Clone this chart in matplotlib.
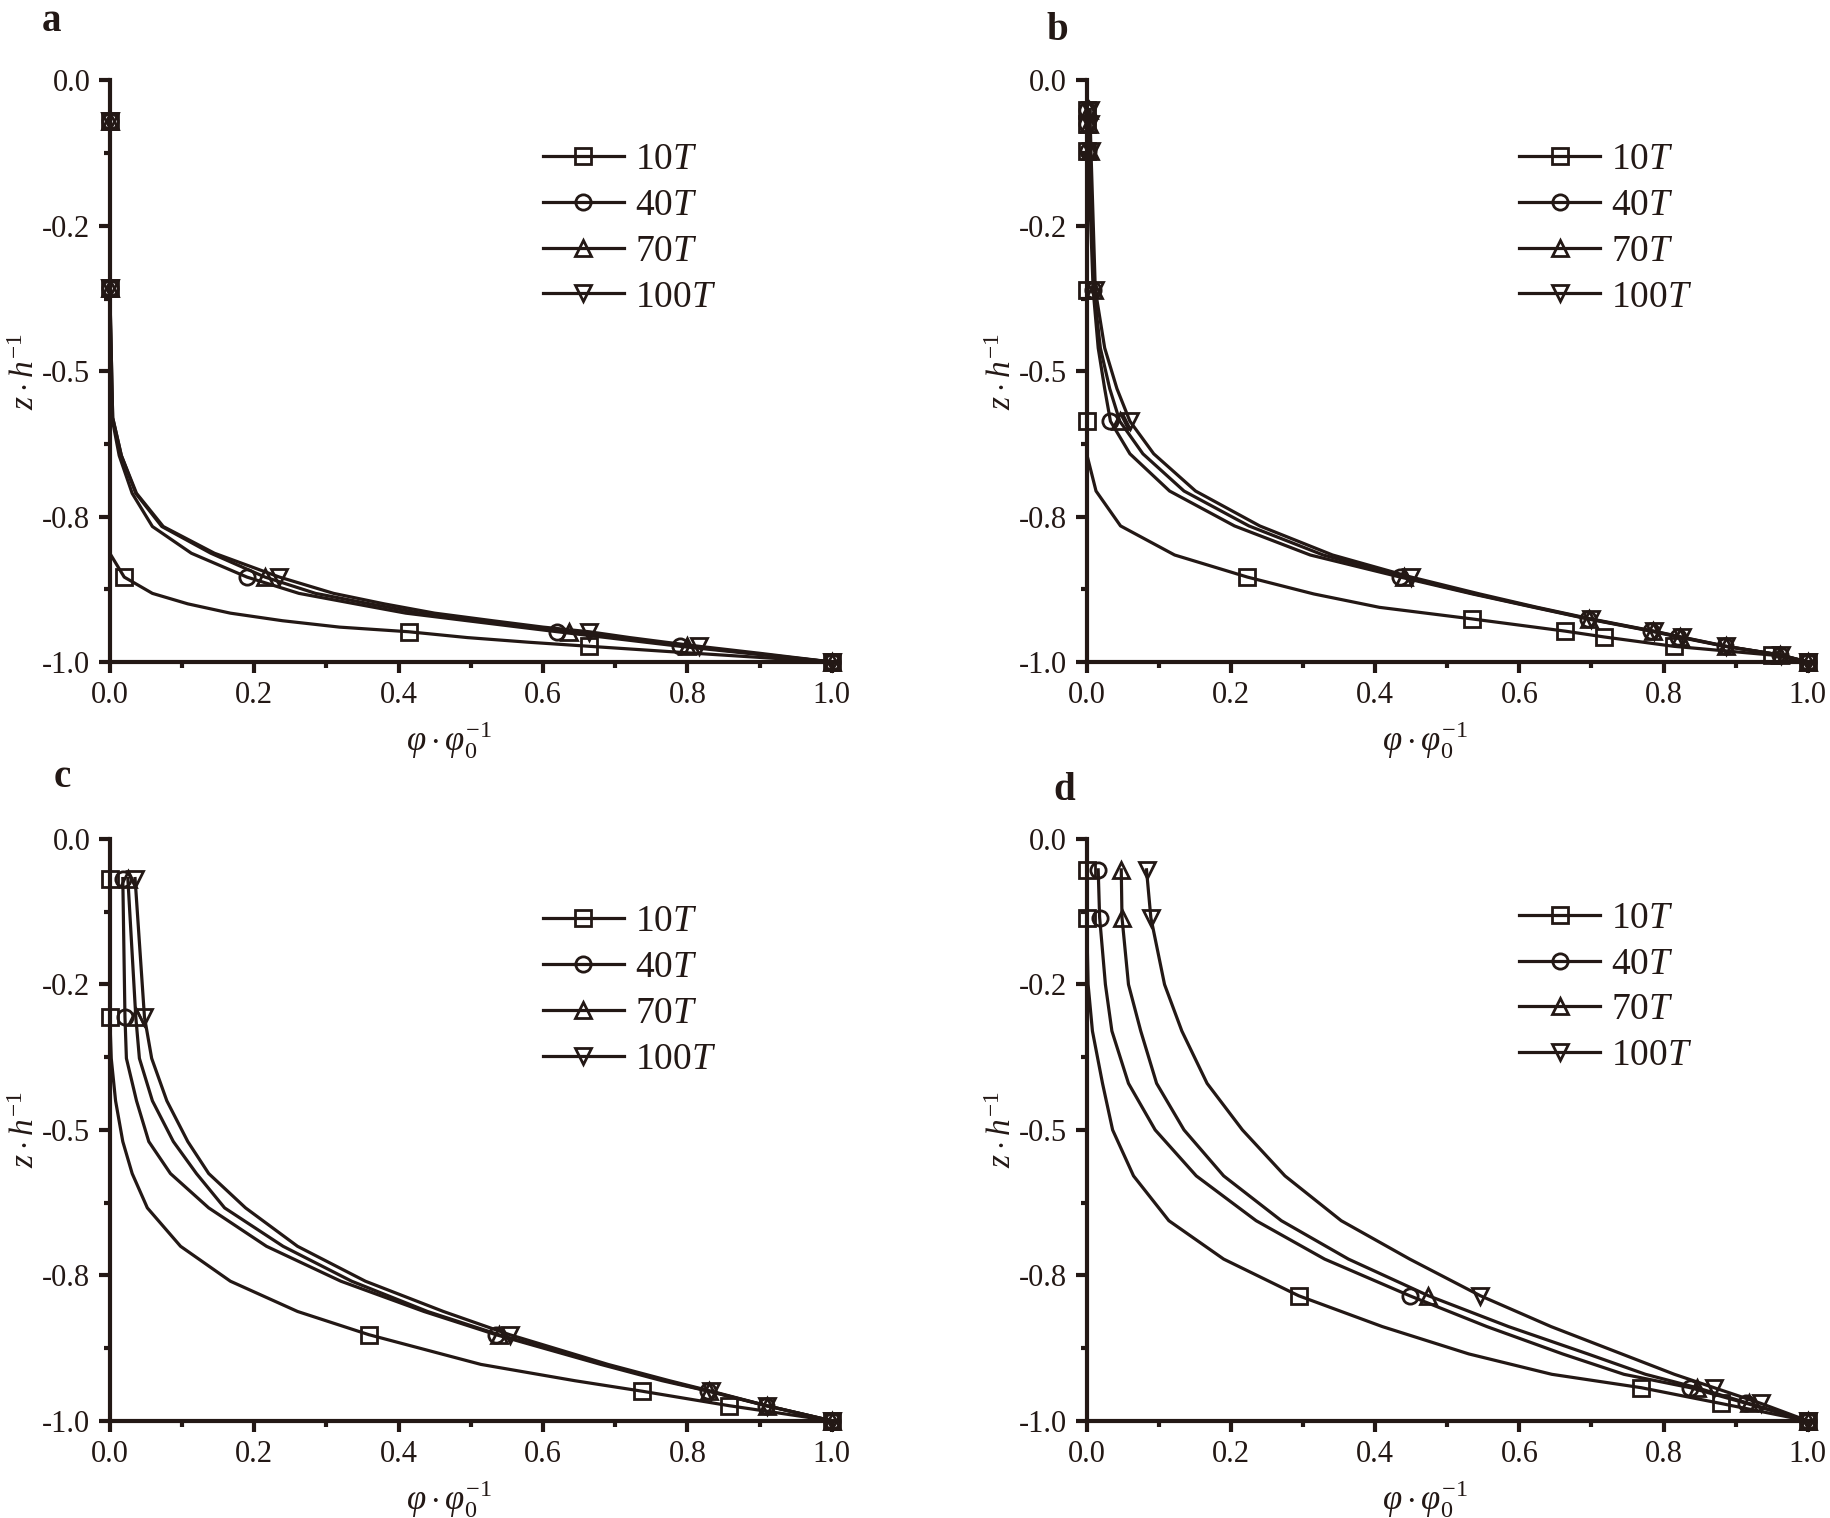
import numpy as np
import matplotlib
matplotlib.use("Agg")
import matplotlib.pyplot as plt

plt.rcParams['font.family'] = ['Liberation Serif', 'DejaVu Serif']
plt.rcParams['mathtext.fontset'] = 'custom'
plt.rcParams['mathtext.rm'] = 'Liberation Serif'
plt.rcParams['mathtext.it'] = 'Liberation Serif:italic'
plt.rcParams['mathtext.bf'] = 'Liberation Serif:bold'

# ---------------- data ----------------
series_labels = ['10$T$', '40$T$', '70$T$', '100$T$']
series_markers = ['s', 'o', '^', 'v']

# panel a
za = [-0.07, -0.357, -0.58, -0.645, -0.71, -0.767, -0.813, -0.854, -0.882, -0.90,
      -0.916, -0.929, -0.94, -0.948, -0.958, -0.966, -0.973, -0.985, -1.0]
a_10T = [0, 0, 0, 0, 0, 0, 0, 0.020, 0.059, 0.108, 0.167, 0.239, 0.318, 0.414,
         0.495, 0.58, 0.664, 0.81, 1.0]
a_40T = [0, 0, 0.003, 0.013, 0.031, 0.059, 0.113, 0.19, 0.262, 0.34, 0.41, 0.495,
         0.567, 0.62, 0.688, 0.742, 0.79, 0.883, 1.0]
a_70T = [0, 0, 0.004, 0.016, 0.036, 0.072, 0.14, 0.215, 0.285, 0.36, 0.43, 0.51,
         0.58, 0.636, 0.70, 0.755, 0.80, 0.89, 1.0]
a_100T = [0, 0, 0.004, 0.016, 0.037, 0.074, 0.145, 0.235, 0.31, 0.38, 0.45, 0.53,
          0.60, 0.664, 0.72, 0.77, 0.816, 0.90, 1.0]
a_marks = [0, 1, 7, 13, 16, 18]

# panel b
zb = [-0.05, -0.075, -0.122, -0.36, -0.46, -0.53, -0.586, -0.642, -0.706, -0.766,
      -0.816, -0.854, -0.883, -0.906, -0.926, -0.947, -0.957, -0.973, -0.988, -1.0]
b_10T = [0, 0, 0, 0, 0, 0, 0, 0, 0.013, 0.047, 0.122, 0.223, 0.315, 0.406, 0.535,
         0.664, 0.718, 0.814, 0.95, 1.0]
b_40T = [0.001, 0.001, 0.002, 0.009, 0.016, 0.025, 0.033, 0.06, 0.115, 0.205, 0.31,
         0.435, 0.535, 0.62, 0.695, 0.783, 0.82, 0.885, 0.962, 1.0]
b_70T = [0.003, 0.003, 0.004, 0.010, 0.019, 0.032, 0.046, 0.078, 0.135, 0.225, 0.328,
         0.44, 0.538, 0.622, 0.697, 0.785, 0.823, 0.886, 0.962, 1.0]
b_100T = [0.005, 0.005, 0.006, 0.012, 0.025, 0.042, 0.06, 0.093, 0.151, 0.24, 0.341,
          0.45, 0.545, 0.625, 0.70, 0.787, 0.825, 0.887, 0.963, 1.0]
b_marks = [0, 1, 2, 3, 6, 11, 14, 15, 16, 17, 18, 19]

# panel c
zc = [-0.068, -0.306, -0.377, -0.45, -0.52, -0.575, -0.634, -0.70, -0.76, -0.812,
      -0.852, -0.903, -0.931, -0.949, -0.974, -1.0]
c_10T = [0, 0, 0.002, 0.008, 0.018, 0.031, 0.052, 0.098, 0.167, 0.26, 0.359, 0.514,
         0.644, 0.737, 0.858, 1.0]
c_40T = [0.018, 0.021, 0.023, 0.037, 0.054, 0.084, 0.137, 0.217, 0.32, 0.435, 0.535,
         0.68, 0.765, 0.829, 0.909, 1.0]
c_70T = [0.025, 0.036, 0.041, 0.059, 0.088, 0.12, 0.159, 0.24, 0.335, 0.44, 0.539,
         0.685, 0.77, 0.83, 0.91, 1.0]
c_100T = [0.035, 0.048, 0.058, 0.079, 0.108, 0.137, 0.188, 0.26, 0.354, 0.462, 0.554,
          0.69, 0.775, 0.833, 0.91, 1.0]
c_marks = [0, 1, 10, 13, 14, 15]

# panel d
zd = [-0.053, -0.135, -0.25, -0.33, -0.42, -0.5, -0.579, -0.656, -0.722, -0.785,
      -0.838, -0.885, -0.92, -0.943, -0.97, -1.0]
d_10T = [0, 0, 0.002, 0.008, 0.022, 0.036, 0.065, 0.114, 0.19, 0.294, 0.41, 0.53,
         0.645, 0.769, 0.879, 1.0]
d_40T = [0.016, 0.018, 0.026, 0.035, 0.058, 0.095, 0.152, 0.235, 0.33, 0.448, 0.555,
         0.66, 0.745, 0.837, 0.915, 1.0]
d_70T = [0.048, 0.049, 0.058, 0.075, 0.097, 0.135, 0.19, 0.27, 0.363, 0.474, 0.585,
         0.695, 0.775, 0.846, 0.918, 1.0]
d_100T = [0.083, 0.089, 0.108, 0.132, 0.167, 0.216, 0.275, 0.353, 0.448, 0.546, 0.644,
          0.742, 0.815, 0.87, 0.935, 1.0]
d_marks = [0, 1, 9, 13, 14, 15]

x_ticks = [0.0, 0.2, 0.4, 0.6, 0.8, 1.0]
x_ticklabels = ['0.0', '0.2', '0.4', '0.6', '0.8', '1.0']
x_minor = [0.1, 0.3, 0.5, 0.7, 0.9]
y_ticks = [0.0, -0.25, -0.5, -0.75, -1.0]
y_ticklabels = ['0.0', '-0.2', '-0.5', '-0.8', '-1.0']
y_minor = [-0.125, -0.375, -0.625, -0.875]

# ---------------- drawing ----------------
C = '#231815'
fig = plt.figure(figsize=(18.3, 15.18), dpi=100)

panels = [
    ('a', [0.0600, 0.5639, 0.3985, 0.3831], za, [a_10T, a_40T, a_70T, a_100T], a_marks, (0.0284, 0.986), 0.865),
    ('b', [0.5938, 0.5639, 0.3980, 0.3831], zb, [b_10T, b_40T, b_70T, b_100T], b_marks, (0.5776, 0.9796), 0.865),
    ('c', [0.0600, 0.0640, 0.3985, 0.3833], zc, [c_10T, c_40T, c_70T, c_100T], c_marks, (0.0339, 0.4875), 0.859),
    ('d', [0.5938, 0.0640, 0.3980, 0.3833], zd, [d_10T, d_40T, d_70T, d_100T], d_marks, (0.5814, 0.4790), 0.865),
]

for letter, rect, z, ys, marks, lpos, leg_y in panels:
    ax = fig.add_axes(rect)
    for phi, lab, mk in zip(ys, series_labels, series_markers):
        ax.plot(phi, z, color=C, lw=2.3, marker=mk, markevery=marks, ms=11,
                mfc='none', mec=C, mew=2.0, label=lab, clip_on=False, zorder=3)
    ax.set_xlim(0, 1.01)
    ax.set_ylim(-1.0, 0.0)
    for s in ['top', 'right']:
        ax.spines[s].set_visible(False)
    for s in ['left', 'bottom']:
        ax.spines[s].set_linewidth(3)
        ax.spines[s].set_color(C)
    ax.set_xticks(x_ticks)
    ax.set_xticklabels(x_ticklabels)
    ax.set_xticks(x_minor, minor=True)
    ax.set_yticks(y_ticks)
    ax.set_yticklabels(y_ticklabels)
    ax.set_yticks(y_minor, minor=True)
    ax.tick_params(which='major', direction='out', length=8, width=3, color=C,
                   labelsize=22, labelcolor=C, pad=6)
    ax.tick_params(which='minor', direction='out', length=4.5, width=3, color=C)
    ax.set_xlabel(r'$\varphi\cdot\varphi_0^{-1}$', fontsize=25, color=C)
    ax.xaxis.set_label_coords(0.465, -0.098)
    ax.set_ylabel(r'$z\cdot h^{-1}$', fontsize=24, color=C)
    ax.yaxis.set_label_coords(-0.094, 0.5)
    leg = ax.legend(loc='center left', bbox_to_anchor=(0.594, leg_y - 0.12),
                    frameon=False, fontsize=27, handlelength=2.15,
                    handletextpad=0.3, labelspacing=0.3, borderpad=0,
                    borderaxespad=0)
    for t in leg.get_texts():
        t.set_color(C)
    fig.text(lpos[0], lpos[1], letter, fontsize=28, fontweight='bold',
             ha='center', va='center', color=C)

fig.savefig('out.png', dpi=100)
